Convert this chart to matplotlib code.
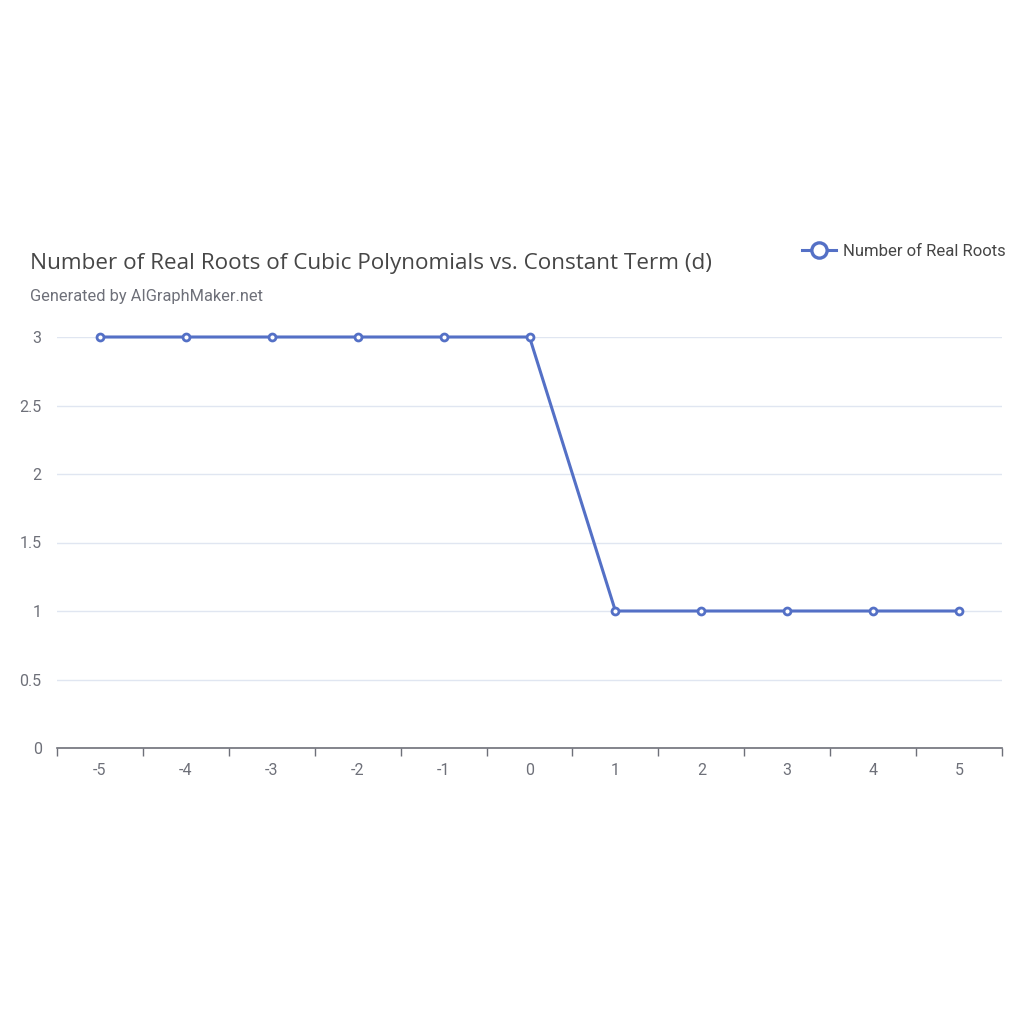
import matplotlib.pyplot as plt
from matplotlib.lines import Line2D

# data
d_values = [-5, -4, -3, -2, -1, 0, 1, 2, 3, 4, 5]
real_roots = [3, 3, 3, 3, 3, 3, 1, 1, 1, 1, 1]
series_name = "Number of Real Roots"

line_color = "#5470c6"
grid_color = "#e0e6f1"
axis_color = "#6e7079"

plt.rcParams['font.family'] = ['Roboto', 'DejaVu Sans']

fig = plt.figure(figsize=(10.24, 10.24), dpi=100)
ax = fig.add_axes([57 / 1024, 1 - 748 / 1024, 945 / 1024, 411 / 1024])

xpos = list(range(len(d_values)))
ax.plot(xpos, real_roots, color=line_color, linewidth=2.2, marker='o',
        markersize=5, markerfacecolor='white', markeredgewidth=2,
        markeredgecolor=line_color, clip_on=False, zorder=3)

ax.set_xlim(-0.5, len(d_values) - 0.5)
ax.set_ylim(0, 3)
ax.set_yticks([0, 0.5, 1, 1.5, 2, 2.5, 3])
ax.set_yticklabels(["0", "0.5", "1", "1.5", "2", "2.5", "3"])
ax.set_xticks(xpos)
ax.set_xticklabels([str(v) for v in d_values])
ax.set_xticks([i - 0.5 for i in range(len(d_values) + 1)], minor=True)

ax.tick_params(axis='x', which='major', length=0, pad=11, labelsize=11.5, labelcolor=axis_color)
ax.tick_params(axis='x', which='minor', length=6, width=1, color=axis_color, direction='out')
ax.tick_params(axis='y', length=0, pad=11, labelsize=11.5, labelcolor=axis_color)

ax.grid(axis='y', color=grid_color, linewidth=1)
ax.set_axisbelow(True)
for s in ['top', 'right', 'left']:
    ax.spines[s].set_visible(False)
ax.spines['bottom'].set_color(axis_color)
ax.spines['bottom'].set_linewidth(1.2)

fig.text(30 / 1024, 1 - 264 / 1024, "Number of Real Roots of Cubic Polynomials vs. Constant Term (d)",
         fontsize=16.2, color="#464646", family=['Open Sans', 'DejaVu Sans'], va='center', ha='left')
fig.text(30 / 1024, 1 - 297 / 1024, "Generated by AIGraphMaker.net",
         fontsize=11.8, color=axis_color, va='center', ha='left')

handle = Line2D([0], [0], color=line_color, linewidth=2.2, marker='o', markersize=11,
                markerfacecolor='white', markeredgewidth=2.4, markeredgecolor=line_color)
fig.legend([handle], [series_name], loc='center right', bbox_to_anchor=(1021 / 1024, 1 - 251 / 1024),
           frameon=False, fontsize=12, handlelength=2.0, handletextpad=0.45, labelcolor="#464646")

fig.savefig("out.png", dpi=100, facecolor='white')
